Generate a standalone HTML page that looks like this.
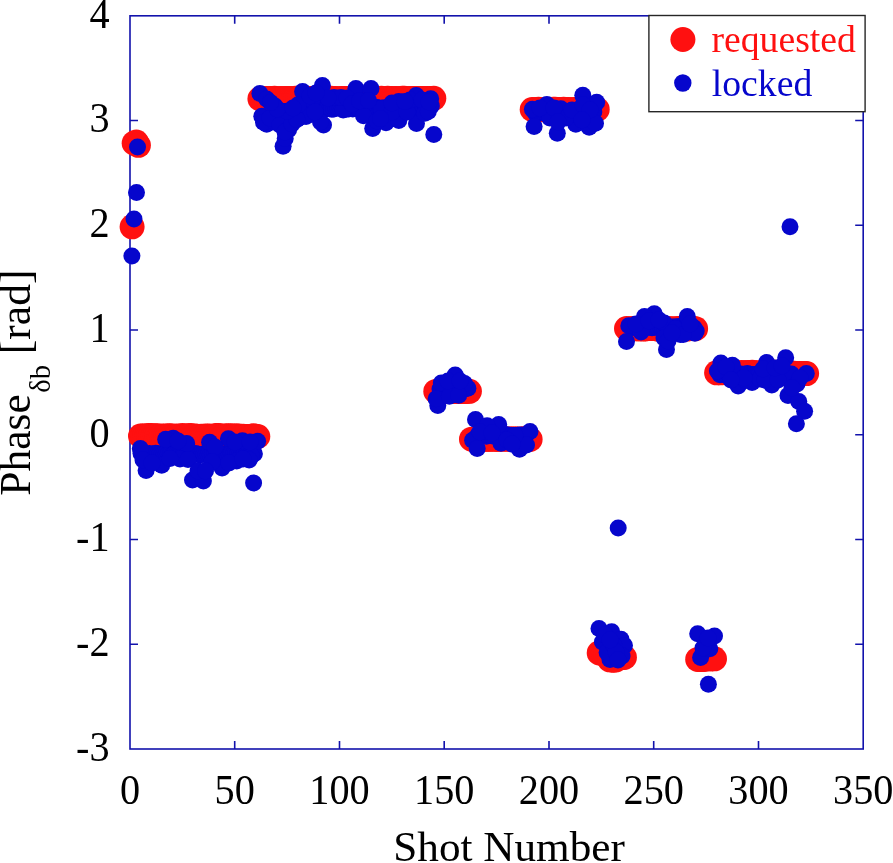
<!DOCTYPE html>
<html><head><meta charset="utf-8"><title>Phase vs Shot Number</title>
<style>html,body{margin:0;padding:0;background:#fff;overflow:hidden}svg{display:block}text{font-family:"Liberation Serif","Times New Roman",Times,serif}</style></head><body>
<svg width="893" height="863" viewBox="0 0 893 863">
<rect x="0" y="0" width="893" height="863" fill="#fff"/>
<g stroke="#1212ac" stroke-width="1.6" fill="none">
<rect x="130.0" y="15.8" width="733.2" height="733.2"/>
<path d="M234.7 749.0v-8 M234.7 15.8v8"/>
<path d="M339.5 749.0v-8 M339.5 15.8v8"/>
<path d="M444.2 749.0v-8 M444.2 15.8v8"/>
<path d="M549.0 749.0v-8 M549.0 15.8v8"/>
<path d="M653.7 749.0v-8 M653.7 15.8v8"/>
<path d="M758.5 749.0v-8 M758.5 15.8v8"/>
<path d="M130.0 644.3h8 M863.2 644.3h-8"/>
<path d="M130.0 539.5h8 M863.2 539.5h-8"/>
<path d="M130.0 434.8h8 M863.2 434.8h-8"/>
<path d="M130.0 330.0h8 M863.2 330.0h-8"/>
<path d="M130.0 225.3h8 M863.2 225.3h-8"/>
<path d="M130.0 120.5h8 M863.2 120.5h-8"/>
</g>
<g fill="#ff1010">
<circle cx="132.1" cy="226.8" r="12.5"/>
<circle cx="134.2" cy="143.2" r="12.5"/>
<circle cx="136.3" cy="142.0" r="12.5"/>
<circle cx="138.4" cy="145.3" r="12.5"/>
<circle cx="140.5" cy="436.0" r="12.5"/>
<circle cx="142.6" cy="435.9" r="12.5"/>
<circle cx="144.7" cy="436.1" r="12.5"/>
<circle cx="146.8" cy="436.1" r="12.5"/>
<circle cx="148.9" cy="435.6" r="12.5"/>
<circle cx="150.9" cy="435.5" r="12.5"/>
<circle cx="153.0" cy="436.3" r="12.5"/>
<circle cx="155.1" cy="435.8" r="12.5"/>
<circle cx="157.2" cy="435.7" r="12.5"/>
<circle cx="159.3" cy="436.5" r="12.5"/>
<circle cx="161.4" cy="436.0" r="12.5"/>
<circle cx="163.5" cy="436.3" r="12.5"/>
<circle cx="165.6" cy="436.0" r="12.5"/>
<circle cx="167.7" cy="436.1" r="12.5"/>
<circle cx="169.8" cy="435.7" r="12.5"/>
<circle cx="171.9" cy="436.1" r="12.5"/>
<circle cx="174.0" cy="436.4" r="12.5"/>
<circle cx="176.1" cy="436.0" r="12.5"/>
<circle cx="178.2" cy="436.2" r="12.5"/>
<circle cx="180.3" cy="436.2" r="12.5"/>
<circle cx="182.4" cy="435.6" r="12.5"/>
<circle cx="184.5" cy="436.3" r="12.5"/>
<circle cx="186.6" cy="436.1" r="12.5"/>
<circle cx="188.7" cy="435.8" r="12.5"/>
<circle cx="190.8" cy="435.5" r="12.5"/>
<circle cx="192.8" cy="436.4" r="12.5"/>
<circle cx="194.9" cy="436.0" r="12.5"/>
<circle cx="197.0" cy="436.2" r="12.5"/>
<circle cx="199.1" cy="436.4" r="12.5"/>
<circle cx="201.2" cy="436.2" r="12.5"/>
<circle cx="203.3" cy="436.4" r="12.5"/>
<circle cx="205.4" cy="435.9" r="12.5"/>
<circle cx="207.5" cy="436.3" r="12.5"/>
<circle cx="209.6" cy="435.9" r="12.5"/>
<circle cx="211.7" cy="436.4" r="12.5"/>
<circle cx="213.8" cy="436.4" r="12.5"/>
<circle cx="215.9" cy="435.6" r="12.5"/>
<circle cx="218.0" cy="435.6" r="12.5"/>
<circle cx="220.1" cy="435.7" r="12.5"/>
<circle cx="222.2" cy="436.5" r="12.5"/>
<circle cx="224.3" cy="435.9" r="12.5"/>
<circle cx="226.4" cy="436.1" r="12.5"/>
<circle cx="228.5" cy="435.8" r="12.5"/>
<circle cx="230.6" cy="436.0" r="12.5"/>
<circle cx="232.6" cy="435.9" r="12.5"/>
<circle cx="234.7" cy="435.9" r="12.5"/>
<circle cx="236.8" cy="436.1" r="12.5"/>
<circle cx="238.9" cy="436.1" r="12.5"/>
<circle cx="241.0" cy="436.4" r="12.5"/>
<circle cx="243.1" cy="436.2" r="12.5"/>
<circle cx="245.2" cy="436.4" r="12.5"/>
<circle cx="247.3" cy="436.4" r="12.5"/>
<circle cx="249.4" cy="436.5" r="12.5"/>
<circle cx="251.5" cy="436.2" r="12.5"/>
<circle cx="253.6" cy="435.7" r="12.5"/>
<circle cx="255.7" cy="436.4" r="12.5"/>
<circle cx="257.8" cy="436.5" r="12.5"/>
<circle cx="259.9" cy="98.8" r="12.5"/>
<circle cx="262.0" cy="98.6" r="12.5"/>
<circle cx="264.1" cy="98.7" r="12.5"/>
<circle cx="266.2" cy="98.4" r="12.5"/>
<circle cx="268.3" cy="98.8" r="12.5"/>
<circle cx="270.4" cy="98.6" r="12.5"/>
<circle cx="272.5" cy="98.5" r="12.5"/>
<circle cx="274.5" cy="98.3" r="12.5"/>
<circle cx="276.6" cy="98.8" r="12.5"/>
<circle cx="278.7" cy="98.9" r="12.5"/>
<circle cx="280.8" cy="98.4" r="12.5"/>
<circle cx="282.9" cy="98.8" r="12.5"/>
<circle cx="285.0" cy="98.5" r="12.5"/>
<circle cx="287.1" cy="98.4" r="12.5"/>
<circle cx="289.2" cy="98.5" r="12.5"/>
<circle cx="291.3" cy="98.8" r="12.5"/>
<circle cx="293.4" cy="98.8" r="12.5"/>
<circle cx="295.5" cy="98.3" r="12.5"/>
<circle cx="297.6" cy="98.7" r="12.5"/>
<circle cx="299.7" cy="98.3" r="12.5"/>
<circle cx="301.8" cy="98.7" r="12.5"/>
<circle cx="303.9" cy="98.5" r="12.5"/>
<circle cx="306.0" cy="98.8" r="12.5"/>
<circle cx="308.1" cy="98.9" r="12.5"/>
<circle cx="310.2" cy="98.6" r="12.5"/>
<circle cx="312.3" cy="98.9" r="12.5"/>
<circle cx="314.3" cy="98.5" r="12.5"/>
<circle cx="316.4" cy="98.3" r="12.5"/>
<circle cx="318.5" cy="98.7" r="12.5"/>
<circle cx="320.6" cy="98.3" r="12.5"/>
<circle cx="322.7" cy="98.4" r="12.5"/>
<circle cx="324.8" cy="98.5" r="12.5"/>
<circle cx="326.9" cy="98.7" r="12.5"/>
<circle cx="329.0" cy="98.4" r="12.5"/>
<circle cx="331.1" cy="98.3" r="12.5"/>
<circle cx="333.2" cy="98.8" r="12.5"/>
<circle cx="335.3" cy="98.5" r="12.5"/>
<circle cx="337.4" cy="98.9" r="12.5"/>
<circle cx="339.5" cy="98.8" r="12.5"/>
<circle cx="341.6" cy="98.5" r="12.5"/>
<circle cx="343.7" cy="98.6" r="12.5"/>
<circle cx="345.8" cy="98.6" r="12.5"/>
<circle cx="347.9" cy="98.7" r="12.5"/>
<circle cx="350.0" cy="98.7" r="12.5"/>
<circle cx="352.1" cy="98.6" r="12.5"/>
<circle cx="354.1" cy="98.7" r="12.5"/>
<circle cx="356.2" cy="98.9" r="12.5"/>
<circle cx="358.3" cy="98.6" r="12.5"/>
<circle cx="360.4" cy="98.6" r="12.5"/>
<circle cx="362.5" cy="98.7" r="12.5"/>
<circle cx="364.6" cy="98.4" r="12.5"/>
<circle cx="366.7" cy="98.5" r="12.5"/>
<circle cx="368.8" cy="98.9" r="12.5"/>
<circle cx="370.9" cy="98.6" r="12.5"/>
<circle cx="373.0" cy="98.6" r="12.5"/>
<circle cx="375.1" cy="98.3" r="12.5"/>
<circle cx="377.2" cy="98.5" r="12.5"/>
<circle cx="379.3" cy="98.6" r="12.5"/>
<circle cx="381.4" cy="98.3" r="12.5"/>
<circle cx="383.5" cy="98.7" r="12.5"/>
<circle cx="385.6" cy="98.7" r="12.5"/>
<circle cx="387.7" cy="98.3" r="12.5"/>
<circle cx="389.8" cy="98.7" r="12.5"/>
<circle cx="391.9" cy="98.6" r="12.5"/>
<circle cx="394.0" cy="98.7" r="12.5"/>
<circle cx="396.0" cy="98.5" r="12.5"/>
<circle cx="398.1" cy="98.7" r="12.5"/>
<circle cx="400.2" cy="98.7" r="12.5"/>
<circle cx="402.3" cy="98.3" r="12.5"/>
<circle cx="404.4" cy="98.3" r="12.5"/>
<circle cx="406.5" cy="98.7" r="12.5"/>
<circle cx="408.6" cy="98.9" r="12.5"/>
<circle cx="410.7" cy="98.5" r="12.5"/>
<circle cx="412.8" cy="98.6" r="12.5"/>
<circle cx="414.9" cy="98.7" r="12.5"/>
<circle cx="417.0" cy="98.5" r="12.5"/>
<circle cx="419.1" cy="98.5" r="12.5"/>
<circle cx="421.2" cy="98.5" r="12.5"/>
<circle cx="423.3" cy="98.5" r="12.5"/>
<circle cx="425.4" cy="98.7" r="12.5"/>
<circle cx="427.5" cy="98.5" r="12.5"/>
<circle cx="429.6" cy="98.5" r="12.5"/>
<circle cx="431.7" cy="98.8" r="12.5"/>
<circle cx="433.8" cy="98.3" r="12.5"/>
<circle cx="435.8" cy="391.4" r="12.5"/>
<circle cx="437.9" cy="391.5" r="12.5"/>
<circle cx="440.0" cy="391.3" r="12.5"/>
<circle cx="442.1" cy="391.2" r="12.5"/>
<circle cx="444.2" cy="391.6" r="12.5"/>
<circle cx="446.3" cy="391.2" r="12.5"/>
<circle cx="448.4" cy="391.2" r="12.5"/>
<circle cx="450.5" cy="391.4" r="12.5"/>
<circle cx="452.6" cy="391.5" r="12.5"/>
<circle cx="454.7" cy="391.2" r="12.5"/>
<circle cx="456.8" cy="391.3" r="12.5"/>
<circle cx="458.9" cy="391.3" r="12.5"/>
<circle cx="461.0" cy="391.6" r="12.5"/>
<circle cx="463.1" cy="391.4" r="12.5"/>
<circle cx="465.2" cy="391.6" r="12.5"/>
<circle cx="467.3" cy="391.2" r="12.5"/>
<circle cx="469.4" cy="391.3" r="12.5"/>
<circle cx="471.5" cy="439.2" r="12.5"/>
<circle cx="473.6" cy="439.3" r="12.5"/>
<circle cx="475.7" cy="439.1" r="12.5"/>
<circle cx="477.7" cy="438.9" r="12.5"/>
<circle cx="479.8" cy="438.9" r="12.5"/>
<circle cx="481.9" cy="439.1" r="12.5"/>
<circle cx="484.0" cy="438.9" r="12.5"/>
<circle cx="486.1" cy="439.3" r="12.5"/>
<circle cx="488.2" cy="439.3" r="12.5"/>
<circle cx="490.3" cy="438.9" r="12.5"/>
<circle cx="492.4" cy="439.0" r="12.5"/>
<circle cx="494.5" cy="439.3" r="12.5"/>
<circle cx="496.6" cy="439.2" r="12.5"/>
<circle cx="498.7" cy="439.3" r="12.5"/>
<circle cx="500.8" cy="439.0" r="12.5"/>
<circle cx="502.9" cy="438.9" r="12.5"/>
<circle cx="505.0" cy="439.0" r="12.5"/>
<circle cx="507.1" cy="439.3" r="12.5"/>
<circle cx="509.2" cy="439.0" r="12.5"/>
<circle cx="511.3" cy="439.0" r="12.5"/>
<circle cx="513.4" cy="439.1" r="12.5"/>
<circle cx="515.5" cy="439.1" r="12.5"/>
<circle cx="517.5" cy="439.0" r="12.5"/>
<circle cx="519.6" cy="439.4" r="12.5"/>
<circle cx="521.7" cy="438.9" r="12.5"/>
<circle cx="523.8" cy="438.8" r="12.5"/>
<circle cx="525.9" cy="439.4" r="12.5"/>
<circle cx="528.0" cy="439.3" r="12.5"/>
<circle cx="530.1" cy="439.4" r="12.5"/>
<circle cx="532.2" cy="109.5" r="12.5"/>
<circle cx="534.3" cy="109.8" r="12.5"/>
<circle cx="536.4" cy="109.8" r="12.5"/>
<circle cx="538.5" cy="109.3" r="12.5"/>
<circle cx="540.6" cy="109.6" r="12.5"/>
<circle cx="542.7" cy="109.7" r="12.5"/>
<circle cx="544.8" cy="109.6" r="12.5"/>
<circle cx="546.9" cy="109.5" r="12.5"/>
<circle cx="549.0" cy="109.4" r="12.5"/>
<circle cx="551.1" cy="109.4" r="12.5"/>
<circle cx="553.2" cy="109.3" r="12.5"/>
<circle cx="555.3" cy="109.2" r="12.5"/>
<circle cx="557.4" cy="109.6" r="12.5"/>
<circle cx="559.4" cy="109.4" r="12.5"/>
<circle cx="561.5" cy="109.7" r="12.5"/>
<circle cx="563.6" cy="109.2" r="12.5"/>
<circle cx="565.7" cy="109.7" r="12.5"/>
<circle cx="567.8" cy="109.6" r="12.5"/>
<circle cx="569.9" cy="109.8" r="12.5"/>
<circle cx="572.0" cy="109.7" r="12.5"/>
<circle cx="574.1" cy="109.7" r="12.5"/>
<circle cx="576.2" cy="109.5" r="12.5"/>
<circle cx="578.3" cy="109.2" r="12.5"/>
<circle cx="580.4" cy="109.6" r="12.5"/>
<circle cx="582.5" cy="109.3" r="12.5"/>
<circle cx="584.6" cy="109.4" r="12.5"/>
<circle cx="586.7" cy="109.6" r="12.5"/>
<circle cx="588.8" cy="109.5" r="12.5"/>
<circle cx="590.9" cy="109.4" r="12.5"/>
<circle cx="593.0" cy="109.8" r="12.5"/>
<circle cx="595.1" cy="109.6" r="12.5"/>
<circle cx="597.2" cy="109.4" r="12.5"/>
<circle cx="599.2" cy="652.9" r="12.5"/>
<circle cx="601.3" cy="653.2" r="12.5"/>
<circle cx="603.4" cy="653.0" r="12.5"/>
<circle cx="605.5" cy="653.2" r="12.5"/>
<circle cx="607.6" cy="652.9" r="12.5"/>
<circle cx="609.7" cy="659.8" r="12.5"/>
<circle cx="611.8" cy="660.0" r="12.5"/>
<circle cx="613.9" cy="660.2" r="12.5"/>
<circle cx="616.0" cy="659.8" r="12.5"/>
<circle cx="618.1" cy="657.4" r="12.5"/>
<circle cx="620.2" cy="657.5" r="12.5"/>
<circle cx="622.3" cy="657.4" r="12.5"/>
<circle cx="624.4" cy="657.4" r="12.5"/>
<circle cx="626.5" cy="328.5" r="12.5"/>
<circle cx="628.6" cy="328.9" r="12.5"/>
<circle cx="630.7" cy="329.0" r="12.5"/>
<circle cx="632.8" cy="328.5" r="12.5"/>
<circle cx="634.9" cy="328.7" r="12.5"/>
<circle cx="637.0" cy="328.7" r="12.5"/>
<circle cx="639.1" cy="328.8" r="12.5"/>
<circle cx="641.1" cy="328.8" r="12.5"/>
<circle cx="643.2" cy="328.8" r="12.5"/>
<circle cx="645.3" cy="329.0" r="12.5"/>
<circle cx="647.4" cy="328.5" r="12.5"/>
<circle cx="649.5" cy="328.5" r="12.5"/>
<circle cx="651.6" cy="328.6" r="12.5"/>
<circle cx="653.7" cy="328.6" r="12.5"/>
<circle cx="655.8" cy="328.5" r="12.5"/>
<circle cx="657.9" cy="329.1" r="12.5"/>
<circle cx="660.0" cy="329.0" r="12.5"/>
<circle cx="662.1" cy="328.6" r="12.5"/>
<circle cx="664.2" cy="328.8" r="12.5"/>
<circle cx="666.3" cy="328.7" r="12.5"/>
<circle cx="668.4" cy="328.7" r="12.5"/>
<circle cx="670.5" cy="328.7" r="12.5"/>
<circle cx="672.6" cy="328.9" r="12.5"/>
<circle cx="674.7" cy="328.9" r="12.5"/>
<circle cx="676.8" cy="328.7" r="12.5"/>
<circle cx="678.9" cy="328.6" r="12.5"/>
<circle cx="680.9" cy="328.7" r="12.5"/>
<circle cx="683.0" cy="328.6" r="12.5"/>
<circle cx="685.1" cy="328.8" r="12.5"/>
<circle cx="687.2" cy="328.9" r="12.5"/>
<circle cx="689.3" cy="328.7" r="12.5"/>
<circle cx="691.4" cy="328.5" r="12.5"/>
<circle cx="693.5" cy="328.6" r="12.5"/>
<circle cx="695.6" cy="328.7" r="12.5"/>
<circle cx="697.7" cy="659.4" r="12.5"/>
<circle cx="699.8" cy="659.5" r="12.5"/>
<circle cx="701.9" cy="659.4" r="12.5"/>
<circle cx="704.0" cy="659.5" r="12.5"/>
<circle cx="708.2" cy="658.8" r="12.5"/>
<circle cx="710.3" cy="658.8" r="12.5"/>
<circle cx="712.4" cy="658.7" r="12.5"/>
<circle cx="714.5" cy="658.8" r="12.5"/>
<circle cx="716.6" cy="372.8" r="12.5"/>
<circle cx="718.7" cy="372.5" r="12.5"/>
<circle cx="720.7" cy="372.8" r="12.5"/>
<circle cx="722.8" cy="372.6" r="12.5"/>
<circle cx="724.9" cy="372.4" r="12.5"/>
<circle cx="727.0" cy="372.6" r="12.5"/>
<circle cx="729.1" cy="372.8" r="12.5"/>
<circle cx="731.2" cy="372.3" r="12.5"/>
<circle cx="733.3" cy="372.5" r="12.5"/>
<circle cx="735.4" cy="372.5" r="12.5"/>
<circle cx="737.5" cy="372.9" r="12.5"/>
<circle cx="739.6" cy="372.9" r="12.5"/>
<circle cx="741.7" cy="372.5" r="12.5"/>
<circle cx="743.8" cy="372.9" r="12.5"/>
<circle cx="745.9" cy="372.8" r="12.5"/>
<circle cx="748.0" cy="372.4" r="12.5"/>
<circle cx="750.1" cy="372.6" r="12.5"/>
<circle cx="752.2" cy="372.3" r="12.5"/>
<circle cx="754.3" cy="372.9" r="12.5"/>
<circle cx="756.4" cy="372.7" r="12.5"/>
<circle cx="758.5" cy="372.9" r="12.5"/>
<circle cx="760.6" cy="372.8" r="12.5"/>
<circle cx="762.6" cy="372.7" r="12.5"/>
<circle cx="764.7" cy="372.8" r="12.5"/>
<circle cx="766.8" cy="372.7" r="12.5"/>
<circle cx="768.9" cy="372.3" r="12.5"/>
<circle cx="771.0" cy="372.7" r="12.5"/>
<circle cx="773.1" cy="372.2" r="12.5"/>
<circle cx="775.2" cy="372.3" r="12.5"/>
<circle cx="777.3" cy="372.8" r="12.5"/>
<circle cx="779.4" cy="372.2" r="12.5"/>
<circle cx="781.5" cy="373.2" r="12.5"/>
<circle cx="783.6" cy="373.2" r="12.5"/>
<circle cx="785.7" cy="373.6" r="12.5"/>
<circle cx="787.8" cy="373.2" r="12.5"/>
<circle cx="789.9" cy="373.1" r="12.5"/>
<circle cx="792.0" cy="373.6" r="12.5"/>
<circle cx="794.1" cy="373.2" r="12.5"/>
<circle cx="796.2" cy="373.6" r="12.5"/>
<circle cx="798.3" cy="373.5" r="12.5"/>
<circle cx="800.4" cy="373.6" r="12.5"/>
<circle cx="802.4" cy="373.7" r="12.5"/>
<circle cx="804.5" cy="373.4" r="12.5"/>
<circle cx="806.6" cy="373.6" r="12.5"/>
</g>
<g fill="#0606cc">
<circle cx="137.5" cy="146.9" r="8.5"/>
<circle cx="136.5" cy="192.4" r="8.5"/>
<circle cx="134.0" cy="218.9" r="8.5"/>
<circle cx="131.9" cy="256.0" r="8.5"/>
<circle cx="141.0" cy="453.3" r="8.5"/>
<circle cx="143.1" cy="454.7" r="8.5"/>
<circle cx="145.2" cy="454.2" r="8.5"/>
<circle cx="147.3" cy="454.6" r="8.5"/>
<circle cx="149.4" cy="453.4" r="8.5"/>
<circle cx="151.5" cy="454.7" r="8.5"/>
<circle cx="153.6" cy="455.1" r="8.5"/>
<circle cx="155.7" cy="453.3" r="8.5"/>
<circle cx="157.8" cy="453.8" r="8.5"/>
<circle cx="159.9" cy="454.3" r="8.5"/>
<circle cx="162.0" cy="454.9" r="8.5"/>
<circle cx="164.1" cy="453.7" r="8.5"/>
<circle cx="166.2" cy="453.6" r="8.5"/>
<circle cx="168.3" cy="453.7" r="8.5"/>
<circle cx="170.4" cy="454.4" r="8.5"/>
<circle cx="172.5" cy="454.7" r="8.5"/>
<circle cx="174.6" cy="454.0" r="8.5"/>
<circle cx="176.7" cy="453.9" r="8.5"/>
<circle cx="178.8" cy="454.0" r="8.5"/>
<circle cx="180.9" cy="453.9" r="8.5"/>
<circle cx="183.0" cy="454.0" r="8.5"/>
<circle cx="185.1" cy="453.4" r="8.5"/>
<circle cx="187.2" cy="454.2" r="8.5"/>
<circle cx="189.3" cy="455.1" r="8.5"/>
<circle cx="191.4" cy="454.0" r="8.5"/>
<circle cx="193.5" cy="454.7" r="8.5"/>
<circle cx="195.6" cy="453.5" r="8.5"/>
<circle cx="197.7" cy="454.6" r="8.5"/>
<circle cx="199.8" cy="454.7" r="8.5"/>
<circle cx="201.9" cy="454.5" r="8.5"/>
<circle cx="204.0" cy="454.2" r="8.5"/>
<circle cx="206.1" cy="454.2" r="8.5"/>
<circle cx="208.2" cy="454.5" r="8.5"/>
<circle cx="210.3" cy="455.0" r="8.5"/>
<circle cx="212.4" cy="453.5" r="8.5"/>
<circle cx="214.5" cy="453.4" r="8.5"/>
<circle cx="216.6" cy="454.7" r="8.5"/>
<circle cx="218.7" cy="455.0" r="8.5"/>
<circle cx="220.8" cy="454.2" r="8.5"/>
<circle cx="222.9" cy="454.1" r="8.5"/>
<circle cx="225.0" cy="454.6" r="8.5"/>
<circle cx="227.1" cy="453.6" r="8.5"/>
<circle cx="229.2" cy="453.7" r="8.5"/>
<circle cx="231.3" cy="453.6" r="8.5"/>
<circle cx="233.4" cy="454.4" r="8.5"/>
<circle cx="235.5" cy="453.8" r="8.5"/>
<circle cx="237.6" cy="453.7" r="8.5"/>
<circle cx="239.7" cy="454.6" r="8.5"/>
<circle cx="241.8" cy="455.1" r="8.5"/>
<circle cx="243.9" cy="453.8" r="8.5"/>
<circle cx="246.0" cy="454.6" r="8.5"/>
<circle cx="248.1" cy="454.0" r="8.5"/>
<circle cx="250.2" cy="454.9" r="8.5"/>
<circle cx="252.3" cy="454.4" r="8.5"/>
<circle cx="254.4" cy="453.7" r="8.5"/>
<circle cx="140.3" cy="448.6" r="8.5"/>
<circle cx="146.1" cy="470.5" r="8.5"/>
<circle cx="143.0" cy="460.0" r="8.5"/>
<circle cx="161.7" cy="465.3" r="8.5"/>
<circle cx="152.0" cy="463.0" r="8.5"/>
<circle cx="173.2" cy="438.2" r="8.5"/>
<circle cx="165.7" cy="439.2" r="8.5"/>
<circle cx="186.7" cy="443.4" r="8.5"/>
<circle cx="180.0" cy="459.0" r="8.5"/>
<circle cx="188.0" cy="459.5" r="8.5"/>
<circle cx="170.0" cy="458.5" r="8.5"/>
<circle cx="192.5" cy="479.9" r="8.5"/>
<circle cx="203.4" cy="481.0" r="8.5"/>
<circle cx="198.0" cy="471.0" r="8.5"/>
<circle cx="209.6" cy="442.3" r="8.5"/>
<circle cx="228.4" cy="438.7" r="8.5"/>
<circle cx="242.4" cy="440.8" r="8.5"/>
<circle cx="257.6" cy="441.3" r="8.5"/>
<circle cx="251.3" cy="455.9" r="8.5"/>
<circle cx="249.2" cy="460.0" r="8.5"/>
<circle cx="222.1" cy="467.9" r="8.5"/>
<circle cx="236.7" cy="461.1" r="8.5"/>
<circle cx="253.6" cy="483.0" r="8.5"/>
<circle cx="178.0" cy="441.0" r="8.5"/>
<circle cx="215.0" cy="447.0" r="8.5"/>
<circle cx="235.0" cy="442.0" r="8.5"/>
<circle cx="250.0" cy="442.0" r="8.5"/>
<circle cx="212.0" cy="462.0" r="8.5"/>
<circle cx="229.0" cy="463.0" r="8.5"/>
<circle cx="243.0" cy="459.0" r="8.5"/>
<circle cx="205.5" cy="471.0" r="8.5"/>
<circle cx="275.0" cy="111.5" r="8.5"/>
<circle cx="277.1" cy="111.3" r="8.5"/>
<circle cx="279.2" cy="111.8" r="8.5"/>
<circle cx="281.3" cy="111.7" r="8.5"/>
<circle cx="283.4" cy="111.5" r="8.5"/>
<circle cx="285.5" cy="111.7" r="8.5"/>
<circle cx="287.6" cy="111.6" r="8.5"/>
<circle cx="289.7" cy="112.1" r="8.5"/>
<circle cx="291.8" cy="111.4" r="8.5"/>
<circle cx="294.0" cy="109.3" r="8.5"/>
<circle cx="296.1" cy="108.3" r="8.5"/>
<circle cx="298.2" cy="108.5" r="8.5"/>
<circle cx="300.3" cy="108.2" r="8.5"/>
<circle cx="302.4" cy="109.0" r="8.5"/>
<circle cx="304.5" cy="108.9" r="8.5"/>
<circle cx="306.6" cy="108.4" r="8.5"/>
<circle cx="308.7" cy="108.3" r="8.5"/>
<circle cx="310.8" cy="108.7" r="8.5"/>
<circle cx="312.9" cy="109.0" r="8.5"/>
<circle cx="315.0" cy="108.1" r="8.5"/>
<circle cx="317.1" cy="108.8" r="8.5"/>
<circle cx="319.2" cy="109.2" r="8.5"/>
<circle cx="321.3" cy="108.2" r="8.5"/>
<circle cx="323.4" cy="107.8" r="8.5"/>
<circle cx="325.5" cy="107.8" r="8.5"/>
<circle cx="327.6" cy="108.7" r="8.5"/>
<circle cx="329.7" cy="108.7" r="8.5"/>
<circle cx="331.8" cy="109.2" r="8.5"/>
<circle cx="333.9" cy="109.0" r="8.5"/>
<circle cx="336.0" cy="107.8" r="8.5"/>
<circle cx="338.1" cy="107.7" r="8.5"/>
<circle cx="340.2" cy="107.8" r="8.5"/>
<circle cx="342.3" cy="107.7" r="8.5"/>
<circle cx="344.4" cy="108.7" r="8.5"/>
<circle cx="346.5" cy="109.0" r="8.5"/>
<circle cx="348.6" cy="109.1" r="8.5"/>
<circle cx="350.7" cy="107.8" r="8.5"/>
<circle cx="352.8" cy="109.0" r="8.5"/>
<circle cx="354.9" cy="107.9" r="8.5"/>
<circle cx="357.0" cy="108.1" r="8.5"/>
<circle cx="359.1" cy="108.8" r="8.5"/>
<circle cx="361.2" cy="107.5" r="8.5"/>
<circle cx="363.3" cy="107.5" r="8.5"/>
<circle cx="365.4" cy="109.0" r="8.5"/>
<circle cx="367.5" cy="107.9" r="8.5"/>
<circle cx="369.6" cy="108.0" r="8.5"/>
<circle cx="371.7" cy="108.5" r="8.5"/>
<circle cx="373.8" cy="108.7" r="8.5"/>
<circle cx="375.9" cy="107.3" r="8.5"/>
<circle cx="378.0" cy="108.0" r="8.5"/>
<circle cx="380.1" cy="108.2" r="8.5"/>
<circle cx="382.2" cy="108.3" r="8.5"/>
<circle cx="384.3" cy="107.7" r="8.5"/>
<circle cx="386.4" cy="108.5" r="8.5"/>
<circle cx="388.5" cy="109.2" r="8.5"/>
<circle cx="390.6" cy="108.1" r="8.5"/>
<circle cx="392.7" cy="108.4" r="8.5"/>
<circle cx="394.8" cy="107.5" r="8.5"/>
<circle cx="396.9" cy="107.8" r="8.5"/>
<circle cx="399.0" cy="108.6" r="8.5"/>
<circle cx="401.1" cy="107.5" r="8.5"/>
<circle cx="403.2" cy="109.1" r="8.5"/>
<circle cx="405.3" cy="109.1" r="8.5"/>
<circle cx="407.4" cy="107.5" r="8.5"/>
<circle cx="409.5" cy="109.2" r="8.5"/>
<circle cx="411.6" cy="108.0" r="8.5"/>
<circle cx="413.7" cy="108.8" r="8.5"/>
<circle cx="415.8" cy="108.8" r="8.5"/>
<circle cx="417.9" cy="107.9" r="8.5"/>
<circle cx="420.0" cy="108.7" r="8.5"/>
<circle cx="422.1" cy="108.6" r="8.5"/>
<circle cx="424.2" cy="108.9" r="8.5"/>
<circle cx="426.3" cy="107.8" r="8.5"/>
<circle cx="259.9" cy="93.4" r="8.5"/>
<circle cx="266.6" cy="99.0" r="8.5"/>
<circle cx="274.8" cy="106.0" r="8.5"/>
<circle cx="261.8" cy="116.3" r="8.5"/>
<circle cx="266.7" cy="124.2" r="8.5"/>
<circle cx="283.1" cy="146.2" r="8.5"/>
<circle cx="285.2" cy="138.4" r="8.5"/>
<circle cx="302.6" cy="91.4" r="8.5"/>
<circle cx="322.4" cy="85.6" r="8.5"/>
<circle cx="323.5" cy="124.9" r="8.5"/>
<circle cx="320.5" cy="122.1" r="8.5"/>
<circle cx="300.3" cy="117.3" r="8.5"/>
<circle cx="355.9" cy="88.4" r="8.5"/>
<circle cx="371.0" cy="88.4" r="8.5"/>
<circle cx="343.2" cy="110.0" r="8.5"/>
<circle cx="372.7" cy="128.6" r="8.5"/>
<circle cx="386.0" cy="122.8" r="8.5"/>
<circle cx="398.8" cy="120.5" r="8.5"/>
<circle cx="416.5" cy="123.4" r="8.5"/>
<circle cx="363.5" cy="115.8" r="8.5"/>
<circle cx="416.2" cy="95.5" r="8.5"/>
<circle cx="398.8" cy="101.5" r="8.5"/>
<circle cx="381.4" cy="108.7" r="8.5"/>
<circle cx="334.0" cy="97.5" r="8.5"/>
<circle cx="341.0" cy="97.5" r="8.5"/>
<circle cx="347.0" cy="98.0" r="8.5"/>
<circle cx="430.7" cy="98.8" r="8.5"/>
<circle cx="424.9" cy="113.3" r="8.5"/>
<circle cx="433.8" cy="134.4" r="8.5"/>
<circle cx="295.0" cy="117.0" r="8.5"/>
<circle cx="306.0" cy="116.5" r="8.5"/>
<circle cx="290.0" cy="113.0" r="8.5"/>
<circle cx="312.0" cy="100.0" r="8.5"/>
<circle cx="328.0" cy="98.0" r="8.5"/>
<circle cx="315.0" cy="112.0" r="8.5"/>
<circle cx="352.0" cy="104.0" r="8.5"/>
<circle cx="392.0" cy="112.0" r="8.5"/>
<circle cx="407.0" cy="112.0" r="8.5"/>
<circle cx="410.0" cy="100.0" r="8.5"/>
<circle cx="422.0" cy="100.0" r="8.5"/>
<circle cx="263.5" cy="122.3" r="8.5"/>
<circle cx="274.7" cy="122.1" r="8.5"/>
<circle cx="270.0" cy="118.0" r="8.5"/>
<circle cx="280.0" cy="125.0" r="8.5"/>
<circle cx="288.6" cy="129.7" r="8.5"/>
<circle cx="285.0" cy="132.0" r="8.5"/>
<circle cx="292.0" cy="124.0" r="8.5"/>
<circle cx="296.9" cy="119.5" r="8.5"/>
<circle cx="287.1" cy="111.3" r="8.5"/>
<circle cx="277.2" cy="109.0" r="8.5"/>
<circle cx="298.2" cy="104.8" r="8.5"/>
<circle cx="293.0" cy="108.0" r="8.5"/>
<circle cx="270.5" cy="102.5" r="8.5"/>
<circle cx="310.0" cy="96.0" r="8.5"/>
<circle cx="316.0" cy="93.0" r="8.5"/>
<circle cx="364.0" cy="100.5" r="8.5"/>
<circle cx="359.5" cy="101.0" r="8.5"/>
<circle cx="368.5" cy="100.5" r="8.5"/>
<circle cx="377.0" cy="121.0" r="8.5"/>
<circle cx="380.5" cy="118.5" r="8.5"/>
<circle cx="392.0" cy="103.0" r="8.5"/>
<circle cx="405.0" cy="101.5" r="8.5"/>
<circle cx="431.3" cy="106.0" r="8.5"/>
<circle cx="428.3" cy="111.5" r="8.5"/>
<circle cx="429.0" cy="102.0" r="8.5"/>
<circle cx="440.0" cy="388.9" r="8.5"/>
<circle cx="442.1" cy="389.2" r="8.5"/>
<circle cx="444.2" cy="388.8" r="8.5"/>
<circle cx="446.3" cy="388.6" r="8.5"/>
<circle cx="448.4" cy="387.9" r="8.5"/>
<circle cx="450.5" cy="388.5" r="8.5"/>
<circle cx="452.6" cy="388.3" r="8.5"/>
<circle cx="454.7" cy="388.8" r="8.5"/>
<circle cx="456.8" cy="388.8" r="8.5"/>
<circle cx="458.9" cy="388.6" r="8.5"/>
<circle cx="461.0" cy="388.0" r="8.5"/>
<circle cx="463.1" cy="388.7" r="8.5"/>
<circle cx="465.2" cy="388.7" r="8.5"/>
<circle cx="455.2" cy="374.9" r="8.5"/>
<circle cx="441.3" cy="383.0" r="8.5"/>
<circle cx="437.8" cy="405.6" r="8.5"/>
<circle cx="436.1" cy="398.7" r="8.5"/>
<circle cx="467.9" cy="388.2" r="8.5"/>
<circle cx="464.5" cy="383.6" r="8.5"/>
<circle cx="449.4" cy="396.3" r="8.5"/>
<circle cx="458.7" cy="395.2" r="8.5"/>
<circle cx="448.0" cy="381.0" r="8.5"/>
<circle cx="460.0" cy="381.0" r="8.5"/>
<circle cx="478.0" cy="435.0" r="8.5"/>
<circle cx="480.1" cy="436.1" r="8.5"/>
<circle cx="482.2" cy="435.7" r="8.5"/>
<circle cx="484.3" cy="434.9" r="8.5"/>
<circle cx="486.4" cy="436.2" r="8.5"/>
<circle cx="488.5" cy="434.9" r="8.5"/>
<circle cx="490.6" cy="435.2" r="8.5"/>
<circle cx="492.7" cy="435.9" r="8.5"/>
<circle cx="494.8" cy="435.7" r="8.5"/>
<circle cx="496.9" cy="435.6" r="8.5"/>
<circle cx="499.0" cy="435.7" r="8.5"/>
<circle cx="501.1" cy="435.4" r="8.5"/>
<circle cx="503.2" cy="435.2" r="8.5"/>
<circle cx="505.3" cy="435.0" r="8.5"/>
<circle cx="507.4" cy="434.8" r="8.5"/>
<circle cx="509.5" cy="435.8" r="8.5"/>
<circle cx="511.6" cy="435.9" r="8.5"/>
<circle cx="513.7" cy="435.6" r="8.5"/>
<circle cx="515.8" cy="435.9" r="8.5"/>
<circle cx="517.9" cy="435.3" r="8.5"/>
<circle cx="520.0" cy="435.1" r="8.5"/>
<circle cx="522.1" cy="435.3" r="8.5"/>
<circle cx="524.2" cy="436.1" r="8.5"/>
<circle cx="526.3" cy="434.8" r="8.5"/>
<circle cx="475.5" cy="419.4" r="8.5"/>
<circle cx="498.7" cy="424.6" r="8.5"/>
<circle cx="487.1" cy="425.8" r="8.5"/>
<circle cx="530.0" cy="431.6" r="8.5"/>
<circle cx="472.6" cy="440.3" r="8.5"/>
<circle cx="477.2" cy="448.4" r="8.5"/>
<circle cx="519.5" cy="449.2" r="8.5"/>
<circle cx="501.0" cy="443.2" r="8.5"/>
<circle cx="526.5" cy="444.9" r="8.5"/>
<circle cx="514.9" cy="435.6" r="8.5"/>
<circle cx="480.0" cy="432.0" r="8.5"/>
<circle cx="492.0" cy="433.0" r="8.5"/>
<circle cx="507.0" cy="440.0" r="8.5"/>
<circle cx="512.0" cy="444.0" r="8.5"/>
<circle cx="535.0" cy="112.5" r="8.5"/>
<circle cx="537.1" cy="112.1" r="8.5"/>
<circle cx="539.2" cy="112.9" r="8.5"/>
<circle cx="541.3" cy="112.3" r="8.5"/>
<circle cx="543.4" cy="112.2" r="8.5"/>
<circle cx="545.5" cy="112.3" r="8.5"/>
<circle cx="547.6" cy="112.6" r="8.5"/>
<circle cx="549.7" cy="112.9" r="8.5"/>
<circle cx="551.8" cy="112.3" r="8.5"/>
<circle cx="553.9" cy="113.1" r="8.5"/>
<circle cx="556.0" cy="111.9" r="8.5"/>
<circle cx="558.1" cy="112.1" r="8.5"/>
<circle cx="560.2" cy="111.9" r="8.5"/>
<circle cx="562.3" cy="111.9" r="8.5"/>
<circle cx="564.4" cy="112.9" r="8.5"/>
<circle cx="566.5" cy="112.9" r="8.5"/>
<circle cx="568.6" cy="112.0" r="8.5"/>
<circle cx="570.7" cy="112.0" r="8.5"/>
<circle cx="572.8" cy="112.4" r="8.5"/>
<circle cx="574.9" cy="112.9" r="8.5"/>
<circle cx="577.0" cy="113.0" r="8.5"/>
<circle cx="579.1" cy="112.9" r="8.5"/>
<circle cx="581.2" cy="112.6" r="8.5"/>
<circle cx="583.3" cy="111.9" r="8.5"/>
<circle cx="585.4" cy="112.3" r="8.5"/>
<circle cx="587.5" cy="112.0" r="8.5"/>
<circle cx="589.6" cy="112.5" r="8.5"/>
<circle cx="591.7" cy="112.6" r="8.5"/>
<circle cx="593.8" cy="112.0" r="8.5"/>
<circle cx="582.8" cy="95.3" r="8.5"/>
<circle cx="596.7" cy="102.3" r="8.5"/>
<circle cx="546.9" cy="104.6" r="8.5"/>
<circle cx="532.4" cy="109.2" r="8.5"/>
<circle cx="534.1" cy="126.6" r="8.5"/>
<circle cx="557.3" cy="133.2" r="8.5"/>
<circle cx="560.8" cy="108.7" r="8.5"/>
<circle cx="575.8" cy="124.3" r="8.5"/>
<circle cx="589.2" cy="127.2" r="8.5"/>
<circle cx="595.5" cy="123.2" r="8.5"/>
<circle cx="549.8" cy="117.9" r="8.5"/>
<circle cx="566.0" cy="118.0" r="8.5"/>
<circle cx="540.0" cy="108.0" r="8.5"/>
<circle cx="554.0" cy="108.0" r="8.5"/>
<circle cx="572.0" cy="110.0" r="8.5"/>
<circle cx="583.0" cy="105.0" r="8.5"/>
<circle cx="590.0" cy="110.0" r="8.5"/>
<circle cx="582.0" cy="120.0" r="8.5"/>
<circle cx="558.0" cy="122.0" r="8.5"/>
<circle cx="599.0" cy="628.5" r="8.5"/>
<circle cx="611.7" cy="631.7" r="8.5"/>
<circle cx="621.0" cy="639.2" r="8.5"/>
<circle cx="624.5" cy="645.6" r="8.5"/>
<circle cx="622.1" cy="656.0" r="8.5"/>
<circle cx="610.0" cy="659.5" r="8.5"/>
<circle cx="602.4" cy="642.1" r="8.5"/>
<circle cx="607.1" cy="652.6" r="8.5"/>
<circle cx="614.0" cy="645.6" r="8.5"/>
<circle cx="605.0" cy="635.0" r="8.5"/>
<circle cx="616.0" cy="652.0" r="8.5"/>
<circle cx="610.0" cy="640.0" r="8.5"/>
<circle cx="618.0" cy="660.0" r="8.5"/>
<circle cx="618.2" cy="528.0" r="8.5"/>
<circle cx="631.0" cy="326.6" r="8.5"/>
<circle cx="633.1" cy="327.5" r="8.5"/>
<circle cx="635.2" cy="326.2" r="8.5"/>
<circle cx="637.3" cy="327.5" r="8.5"/>
<circle cx="639.4" cy="327.6" r="8.5"/>
<circle cx="641.5" cy="327.7" r="8.5"/>
<circle cx="643.6" cy="326.8" r="8.5"/>
<circle cx="645.7" cy="327.1" r="8.5"/>
<circle cx="647.8" cy="327.1" r="8.5"/>
<circle cx="649.9" cy="327.2" r="8.5"/>
<circle cx="652.0" cy="327.8" r="8.5"/>
<circle cx="654.1" cy="327.3" r="8.5"/>
<circle cx="656.2" cy="326.7" r="8.5"/>
<circle cx="658.3" cy="327.6" r="8.5"/>
<circle cx="660.4" cy="327.0" r="8.5"/>
<circle cx="662.5" cy="327.2" r="8.5"/>
<circle cx="664.6" cy="327.4" r="8.5"/>
<circle cx="666.7" cy="326.2" r="8.5"/>
<circle cx="668.8" cy="327.4" r="8.5"/>
<circle cx="670.9" cy="327.3" r="8.5"/>
<circle cx="673.0" cy="327.0" r="8.5"/>
<circle cx="675.1" cy="327.0" r="8.5"/>
<circle cx="677.2" cy="326.9" r="8.5"/>
<circle cx="679.3" cy="326.5" r="8.5"/>
<circle cx="681.4" cy="327.0" r="8.5"/>
<circle cx="683.5" cy="326.3" r="8.5"/>
<circle cx="685.6" cy="327.0" r="8.5"/>
<circle cx="687.7" cy="327.2" r="8.5"/>
<circle cx="689.8" cy="326.9" r="8.5"/>
<circle cx="691.9" cy="327.1" r="8.5"/>
<circle cx="694.0" cy="327.7" r="8.5"/>
<circle cx="654.3" cy="313.8" r="8.5"/>
<circle cx="644.5" cy="316.5" r="8.5"/>
<circle cx="628.8" cy="325.8" r="8.5"/>
<circle cx="626.5" cy="341.4" r="8.5"/>
<circle cx="666.5" cy="349.4" r="8.5"/>
<circle cx="664.2" cy="322.9" r="8.5"/>
<circle cx="687.3" cy="316.5" r="8.5"/>
<circle cx="641.0" cy="332.1" r="8.5"/>
<circle cx="680.4" cy="334.5" r="8.5"/>
<circle cx="675.7" cy="328.7" r="8.5"/>
<circle cx="696.2" cy="331.0" r="8.5"/>
<circle cx="694.8" cy="333.3" r="8.5"/>
<circle cx="683.2" cy="334.5" r="8.5"/>
<circle cx="636.0" cy="324.0" r="8.5"/>
<circle cx="649.0" cy="321.0" r="8.5"/>
<circle cx="659.0" cy="320.0" r="8.5"/>
<circle cx="664.0" cy="338.0" r="8.5"/>
<circle cx="668.0" cy="341.0" r="8.5"/>
<circle cx="672.0" cy="333.0" r="8.5"/>
<circle cx="690.0" cy="324.0" r="8.5"/>
<circle cx="697.7" cy="633.8" r="8.5"/>
<circle cx="714.5" cy="635.9" r="8.5"/>
<circle cx="700.6" cy="657.4" r="8.5"/>
<circle cx="709.8" cy="648.7" r="8.5"/>
<circle cx="706.3" cy="641.7" r="8.5"/>
<circle cx="708.4" cy="684.2" r="8.5"/>
<circle cx="703.0" cy="648.0" r="8.5"/>
<circle cx="708.0" cy="638.0" r="8.5"/>
<circle cx="720.0" cy="374.8" r="8.5"/>
<circle cx="722.1" cy="373.6" r="8.5"/>
<circle cx="724.2" cy="374.7" r="8.5"/>
<circle cx="726.3" cy="374.4" r="8.5"/>
<circle cx="728.4" cy="373.5" r="8.5"/>
<circle cx="730.5" cy="374.0" r="8.5"/>
<circle cx="732.6" cy="373.8" r="8.5"/>
<circle cx="734.7" cy="373.5" r="8.5"/>
<circle cx="736.8" cy="374.3" r="8.5"/>
<circle cx="738.9" cy="374.9" r="8.5"/>
<circle cx="741.0" cy="373.9" r="8.5"/>
<circle cx="743.1" cy="374.8" r="8.5"/>
<circle cx="745.2" cy="374.5" r="8.5"/>
<circle cx="747.3" cy="373.6" r="8.5"/>
<circle cx="749.4" cy="374.8" r="8.5"/>
<circle cx="751.5" cy="374.4" r="8.5"/>
<circle cx="753.6" cy="374.9" r="8.5"/>
<circle cx="755.7" cy="374.5" r="8.5"/>
<circle cx="757.8" cy="374.6" r="8.5"/>
<circle cx="759.9" cy="373.9" r="8.5"/>
<circle cx="762.0" cy="374.7" r="8.5"/>
<circle cx="764.1" cy="374.9" r="8.5"/>
<circle cx="766.2" cy="374.8" r="8.5"/>
<circle cx="768.3" cy="374.1" r="8.5"/>
<circle cx="770.4" cy="374.6" r="8.5"/>
<circle cx="772.5" cy="374.2" r="8.5"/>
<circle cx="774.6" cy="373.6" r="8.5"/>
<circle cx="776.7" cy="373.5" r="8.5"/>
<circle cx="778.8" cy="373.5" r="8.5"/>
<circle cx="780.9" cy="373.7" r="8.5"/>
<circle cx="783.0" cy="373.7" r="8.5"/>
<circle cx="785.1" cy="374.2" r="8.5"/>
<circle cx="787.2" cy="374.5" r="8.5"/>
<circle cx="789.3" cy="374.3" r="8.5"/>
<circle cx="791.4" cy="374.1" r="8.5"/>
<circle cx="720.9" cy="363.1" r="8.5"/>
<circle cx="732.4" cy="365.2" r="8.5"/>
<circle cx="717.4" cy="371.0" r="8.5"/>
<circle cx="766.6" cy="362.6" r="8.5"/>
<circle cx="785.7" cy="357.7" r="8.5"/>
<circle cx="738.2" cy="386.0" r="8.5"/>
<circle cx="752.1" cy="382.6" r="8.5"/>
<circle cx="771.8" cy="384.9" r="8.5"/>
<circle cx="788.0" cy="395.4" r="8.5"/>
<circle cx="798.8" cy="401.4" r="8.5"/>
<circle cx="804.6" cy="411.3" r="8.5"/>
<circle cx="796.4" cy="423.8" r="8.5"/>
<circle cx="806.3" cy="373.6" r="8.5"/>
<circle cx="797.0" cy="384.0" r="8.5"/>
<circle cx="726.0" cy="367.0" r="8.5"/>
<circle cx="745.0" cy="380.0" r="8.5"/>
<circle cx="760.0" cy="379.0" r="8.5"/>
<circle cx="765.0" cy="380.0" r="8.5"/>
<circle cx="778.0" cy="380.0" r="8.5"/>
<circle cx="763.0" cy="369.0" r="8.5"/>
<circle cx="775.0" cy="368.0" r="8.5"/>
<circle cx="782.0" cy="366.0" r="8.5"/>
<circle cx="800.0" cy="378.0" r="8.5"/>
<circle cx="792.0" cy="388.0" r="8.5"/>
<circle cx="744.0" cy="378.0" r="8.5"/>
<circle cx="731.0" cy="380.0" r="8.5"/>
<circle cx="790.0" cy="226.8" r="8.5"/>
</g>
<g font-size="40.3" fill="#000">
<text transform="translate(130.0,804.1) scale(1,1.073)" text-anchor="middle">0</text>
<text transform="translate(234.7,804.1) scale(1,1.073)" text-anchor="middle">50</text>
<text transform="translate(339.5,804.1) scale(1,1.073)" text-anchor="middle">100</text>
<text transform="translate(444.2,804.1) scale(1,1.073)" text-anchor="middle">150</text>
<text transform="translate(549.0,804.1) scale(1,1.073)" text-anchor="middle">200</text>
<text transform="translate(653.7,804.1) scale(1,1.073)" text-anchor="middle">250</text>
<text transform="translate(758.5,804.1) scale(1,1.073)" text-anchor="middle">300</text>
<text transform="translate(863.2,804.1) scale(1,1.073)" text-anchor="middle">350</text>
<text transform="translate(109.6,760.9) scale(1,1.073)" text-anchor="end">-3</text>
<text transform="translate(109.6,656.2) scale(1,1.073)" text-anchor="end">-2</text>
<text transform="translate(109.6,551.4) scale(1,1.073)" text-anchor="end">-1</text>
<text transform="translate(109.6,446.7) scale(1,1.073)" text-anchor="end">0</text>
<text transform="translate(109.6,341.9) scale(1,1.073)" text-anchor="end">1</text>
<text transform="translate(109.6,237.2) scale(1,1.073)" text-anchor="end">2</text>
<text transform="translate(109.6,132.4) scale(1,1.073)" text-anchor="end">3</text>
<text transform="translate(109.6,27.7) scale(1,1.073)" text-anchor="end">4</text>
</g>
<text x="393.3" y="861.2" font-size="43.2" fill="#000">Shot Number</text>
<text transform="translate(30.4,495.7) rotate(-90)" font-size="43.5" fill="#000">Phase<tspan font-size="28.5" dy="19.4" dx="1.5">δb</tspan><tspan dy="-19.4"> [rad]</tspan></text>
<rect x="648.9" y="15.5" width="216.2" height="96.2" fill="#fff" stroke="#262626" stroke-width="1.4"/>
<circle cx="682.9" cy="39.5" r="12.5" fill="#ff1010"/>
<circle cx="682.8" cy="83" r="8.7" fill="#0606cc"/>
<text x="711.5" y="51.7" font-size="37.7" fill="#ff1010">requested</text>
<text x="711.8" y="95.6" font-size="37.7" fill="#0606cc">locked</text>
</svg></body></html>
